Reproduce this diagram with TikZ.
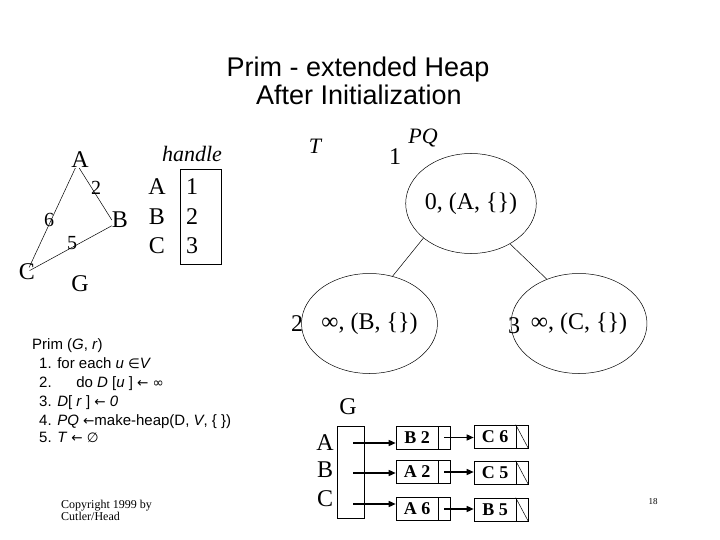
\documentclass[tikz,border=0pt]{standalone}
\usepackage{fontspec}
\setmainfont{Liberation Serif}
\newfontfamily\arial{Liberation Sans}
\newfontfamily\dejavu{DejaVu Sans}
\newcommand\mysym[1]{{\dejavu\fontsize{13.5}{16}\selectfont #1}}
\usetikzlibrary{shapes.geometric,arrows.meta}
\begin{document}
\begin{tikzpicture}[x=1pt,y=-1pt,
  heapnode/.style={draw, fill=white, ellipse, minimum width=114pt, minimum height=100pt, inner sep=0pt, line width=0.5pt, font=\fontsize{24}{28}\selectfont},
  big/.style={inner sep=0pt, font=\fontsize{24}{28}\selectfont},
  mid/.style={inner sep=0pt, font=\fontsize{20}{24}\selectfont},
  code/.style={inner sep=0pt, anchor=base west, font=\arial\fontsize{15}{18}\selectfont},
  cell/.style={draw, line width=0.6pt, minimum width=42pt, minimum height=23pt, inner sep=0pt, font=\bfseries\fontsize{18}{20}\selectfont},
  ptrcell/.style={draw, line width=0.6pt, minimum width=12pt, minimum height=23pt, inner sep=0pt},
  ptr/.style={line width=1.4pt, -{Triangle[length=7pt,width=6pt]}},
  edge/.style={line width=0.5pt}
]
\useasboundingbox (0,0) rectangle (720,540);
% title
\node[font=\arial\fontsize{27}{29}\selectfont, anchor=base, inner sep=0pt] (t1) at (358,77) {Prim - extended Heap};
\node[font=\arial\fontsize{27}{29}\selectfont, anchor=base, inner sep=0pt] (t2) at (359,105) {After Initialization};
% graph
\node[big] (A) at (80,160) {A};
\node[big] (B) at (120,220) {B};
\node[big] (C) at (27,272) {C};
\draw[edge] (A.265) -- (B.west);
\draw[edge, shorten >=5pt] (A.240) -- (C.center);
\draw[edge, shorten >=3pt] (B.215) -- (C.center);
\node[mid] (w2) at (96,188) {2};
\node[mid] (w6) at (49,220) {6};
\node[mid] (w5) at (72,243) {5};
\node[big] (G1) at (80,284) {G};
% handle table
\node[font=\itshape\fontsize{22}{26}\selectfont, inner sep=0pt] (hd) at (192,154) {handle};
\node[draw, line width=0.6pt, minimum width=41pt, minimum height=95pt, inner sep=0pt] (hbox) at (200.5,216.5) {};
\node[big] (hA) at (157,187) {A};
\node[big] (hB) at (157,217) {B};
\node[big] (hC) at (157,246) {C};
\node[big] (h1) at (192,187) {1};
\node[big] (h2) at (192,217) {2};
\node[big] (h3) at (192,246) {3};
% heap
\node[font=\itshape\fontsize{22}{26}\selectfont, inner sep=0pt] (T) at (315,146.5) {T};
\node[font=\itshape\fontsize{22}{26}\selectfont, inner sep=0pt] (PQ) at (423,138) {PQ};
\node[big] (n1) at (395,157) {1};
\node[heapnode] (root) at (471,203.5) {0, (A, \{\})};
\node[heapnode] (lc) at (369.5,323.5) {∞, (B, \{\})};
\node[heapnode] (rc) at (579,323.5) {∞, (C, \{\})};
\draw[edge] (root.216) -- (lc.64);
\draw[edge] (root.314) -- (rc.126);
\node[big] (n2) at (297,323.5) {2};
\node[big] (n3) at (514,326) {3};
% pseudocode
\node[code] (p0) at (32,349) {Prim (\textit{G}, \textit{r})};
\node[code] (p1) at (39,368) {1. for each \textit{u} \mysym{∈}\textit{V}};
\node[code] (p2) at (39,387.5) {2.\hspace{19pt} do \textit{D} [\textit{u} ] \mysym{←} \mysym{∞}};
\node[code] (p3) at (39,406.5) {3. \textit{D}[ \textit{r} ] \mysym{←} \textit{0}};
\node[code] (p4) at (39,425) {4. \textit{PQ} \mysym{←}make-heap(D, \textit{V}, \{ \})};
\node[code] (p5) at (39,442.5) {5. \textit{T} \mysym{←} \mysym{∅}};
% copyright
\node[inner sep=0pt, anchor=base west, font=\fontsize{12}{13}\selectfont] (cp1) at (61,508) {Copyright 1999 by};
\node[inner sep=0pt, anchor=base west, font=\fontsize{12}{13}\selectfont] (cp2) at (61,520.5) {Cutler/Head};
\node[inner sep=0pt, font=\fontsize{9}{10}\selectfont] (pg) at (653,502) {18};
% adjacency list
\node[big] (G2) at (348,407) {G};
\node[draw, line width=0.6pt, minimum width=27pt, minimum height=92pt, inner sep=0pt] (gbox) at (350.5,472) {};
\node[big] (gA) at (325,443) {A};
\node[big] (gB) at (325,470) {B};
\node[big] (gC) at (325,499) {C};
\coordinate (ga) at (353,443);
\coordinate (gb) at (353,473);
\coordinate (gc) at (353,504);
\node[cell] (b1) at (417,437.5) {B 2};
\node[ptrcell] (q1) at (444,437.5) {};
\node[cell] (b2) at (417,472) {A 2};
\node[ptrcell] (q2) at (444,472) {};
\node[cell] (b3) at (417,509) {A 6};
\node[ptrcell] (q3) at (444,509) {};
\node[cell] (c1) at (495,436.5) {C 6};
\node[ptrcell] (e1) at (522,436.5) {};
\node[cell] (c2) at (495,472.5) {C 5};
\node[ptrcell] (e2) at (522,472.5) {};
\node[cell] (c3) at (495,509.5) {B 5};
\node[ptrcell] (e3) at (522,509.5) {};
\draw[edge] (e1.north west) -- (e1.south east);
\draw[edge] (e2.north west) -- (e2.south east);
\draw[edge] (e3.north west) -- (e3.south east);
\draw[ptr] (ga) -- (ga -| b1.west);
\draw[ptr] (gb) -- (gb -| b2.west);
\draw[ptr] (gc) -- (gc -| b3.west);
\draw[ptr] (q1.center) -- (q1.center -| c1.west);
\draw[ptr] (q2.center) -- (q2.center -| c2.west);
\draw[ptr] (q3.center) -- (q3.center -| c3.west);
\end{tikzpicture}
\end{document}
